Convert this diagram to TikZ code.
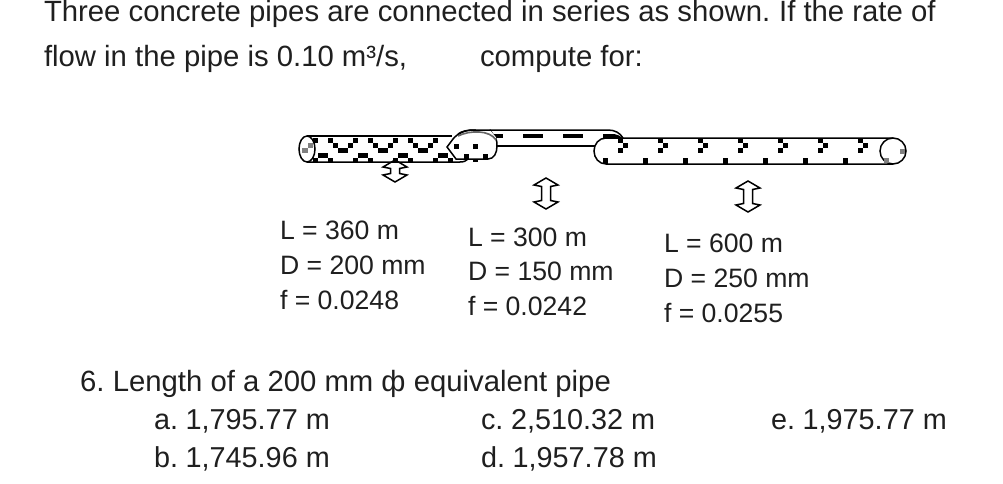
\documentclass[tikz,border=0pt]{standalone}
\usepackage{fontspec}
\setmainfont{Liberation Sans}
\newcommand{\flowmarkat}[4]{% cx, top, bottom, head half width
  \draw[flowline] (#1,#2) -- (#1+#4,#2+7) -- (#1+4.5,#2+8.5) -- (#1+4.5,#3-8.5) -- (#1+#4,#3-7)
    -- (#1,#3) -- (#1-#4,#3-7) -- (#1-4.5,#3-8.5) -- (#1-4.5,#2+8.5) -- (#1-#4,#2+7) -- cycle;
}
\begin{document}
\begin{tikzpicture}[x=1pt,y=-1pt,
  txt/.style={anchor=base west,inner sep=0pt,outer sep=0pt,font=\fontsize{29.3}{32}\selectfont,text=black!88},
  datatxt/.style={txt,font=\fontsize{26.6}{30}\selectfont},
  opttxt/.style={txt,font=\fontsize{28.8}{32}\selectfont},
  pipeline/.style={draw=black,line width=1.5pt},
  sq/.style={fill=black},
  graysq/.style={fill=black!50},
  flowline/.style={draw=black,line width=1.5pt,fill=white,line join=miter}]
\useasboundingbox (0,0) rectangle (1003,484);
\fill[white] (0,0) rectangle (1003,484);
% heading
\node[txt] (head1) at (44,22) {Three concrete pipes are connected in series as shown.\kern-2pt{} If the rate of};
\node[txt] (head2) at (44,67) {flow in the pipe is 0.10 m³/s,};
\node[txt] (head3) at (480,67) {compute for:};
% flow marks
\flowmarkat{395}{160}{182}{12}
\flowmarkat{546}{178}{209}{12}
\flowmarkat{748}{181}{212}{12}
% pipe 1 body
\draw[pipeline] (307,136) -- (452,136);
\draw[pipeline] (307,162) -- (460,162) .. controls (464,162) and (466,161) .. (468,159);
\draw[pipeline] (307,149) ellipse [x radius=8,y radius=13];
% pipe 1 pattern
\foreach \k in {0,1,2}{
  \pgfmathsetmacro{\xa}{328+40*\k}
  \fill[sq] (\xa,138) rectangle +(5,5);
  \fill[sq] (\xa+5,143) rectangle +(5,5);
  \fill[sq] (\xa+10,148) rectangle +(10,5);
  \fill[sq] (\xa+20,143) rectangle +(5,5);
  \fill[sq] (\xa+25,138) rectangle +(5,5);
}
\foreach \k in {0,1,2,3}{
  \pgfmathsetmacro{\xb}{318+40*\k}
  \fill[sq] (\xb,153) rectangle +(10,5);
  \fill[sq] (\xb+10,158) rectangle +(5,4);
  \fill[sq] (\xb+35,158) rectangle +(5,4);
}
\fill[sq] (313,138) rectangle +(5,5);
\fill[sq] (313,158) rectangle +(5,4);
\fill[graysq] (308,143) rectangle +(5,5);
\fill[graysq] (302,148) rectangle +(6,5);
% pipe 2 body
\draw[pipeline] (496,146) -- (596,146);
\foreach \xc/\wc in {493/10,523/20,563/20}{
  \fill[sq] (\xc,134) rectangle +(\wc,4);
}
% joint of pipes 1 and 2
\draw[pipeline,fill=white] (453,139) .. controls (458,133) and (465,130) .. (474,130) -- (490,130)
  -- (496,139) .. controls (497,141) and (497,143) .. (497,146)
  .. controls (497,153) and (494,159) .. (488,159) -- (456,159) -- (447,147) -- cycle;
\draw[draw=white,line width=1.6pt] (476,130) -- (489,130) -- (495.5,138);
\draw[draw=black,line width=1.5pt] (458,134) .. controls (462,131) and (468,130) .. (474,130);
\draw[draw=black!60,line width=1.6pt] (458,136) .. controls (470,130) and (490,130) .. (496,140);
\foreach \xd/\yd in {454/144,473/144,464/154,483/154}{
  \fill[sq] (\xd,\yd) rectangle +(5,5);
}
\draw[pipeline] (474,130) -- (608,130) .. controls (615,130) and (620,133) .. (623,138);
% pipe 3 body
\draw[pipeline,fill=white] (893,138) -- (606,138) .. controls (599,138) and (594,144) .. (594,151)
  .. controls (594,158) and (599,164) .. (606,164) -- (893,164);
\draw[pipeline,fill=white] (893,151) ellipse [x radius=13,y radius=13];
\foreach \k in {0,...,6}{
  \pgfmathsetmacro{\xe}{618+40*\k}
  \fill[sq] (\xe,139) rectangle +(5,4);
  \fill[sq] (\xe+5,143) rectangle +(5,5);
  \fill[sq] (\xe,148) rectangle +(5,5);
  \pgfmathsetmacro{\xf}{603+40*\k}
  \fill[sq] (\xf,158) rectangle +(5,6);
}
\fill[graysq] (900,148.5) rectangle +(5,5);
\fill[graysq] (884,158) rectangle +(5,5);
\fill[sq] (603,134) -- (614,134) .. controls (618,135) and (621,136) .. (623,138.5) -- (603,138.5) -- cycle;
% pipe data
\node[datatxt] (l1) at (280,239) {L = 360 m};
\node[datatxt] (d1) at (280,274) {D = 200 mm};
\node[datatxt] (f1) at (280,309) {f = 0.0248};
\node[datatxt] (l2) at (468,246) {L = 300 m};
\node[datatxt] (d2) at (468,280) {D = 150 mm};
\node[datatxt] (f2) at (468,315) {f = 0.0242};
\node[datatxt] (l3) at (664,252) {L = 600 m};
\node[datatxt] (d3) at (664,287) {D = 250 mm};
\node[datatxt] (f3) at (664,322) {f = 0.0255};
% question
\node[txt] (q) at (80,391) {6.\kern-2.5pt{} Length of a 200 mm ф equivalent pipe};
\node[opttxt] (a) at (154,429) {a.\kern-3pt{} 1,795.77 m};
\node[opttxt] (b) at (154,467) {b.\kern-3pt{} 1,745.96 m};
\node[opttxt] (c) at (481,429) {c.\kern-3pt{} 2,510.32 m};
\node[opttxt] (d) at (481,467) {d.\kern-3pt{} 1,957.78 m};
\node[opttxt] (e) at (771,429) {e.\kern-3pt{} 1,975.77 m};
\end{tikzpicture}
\end{document}
